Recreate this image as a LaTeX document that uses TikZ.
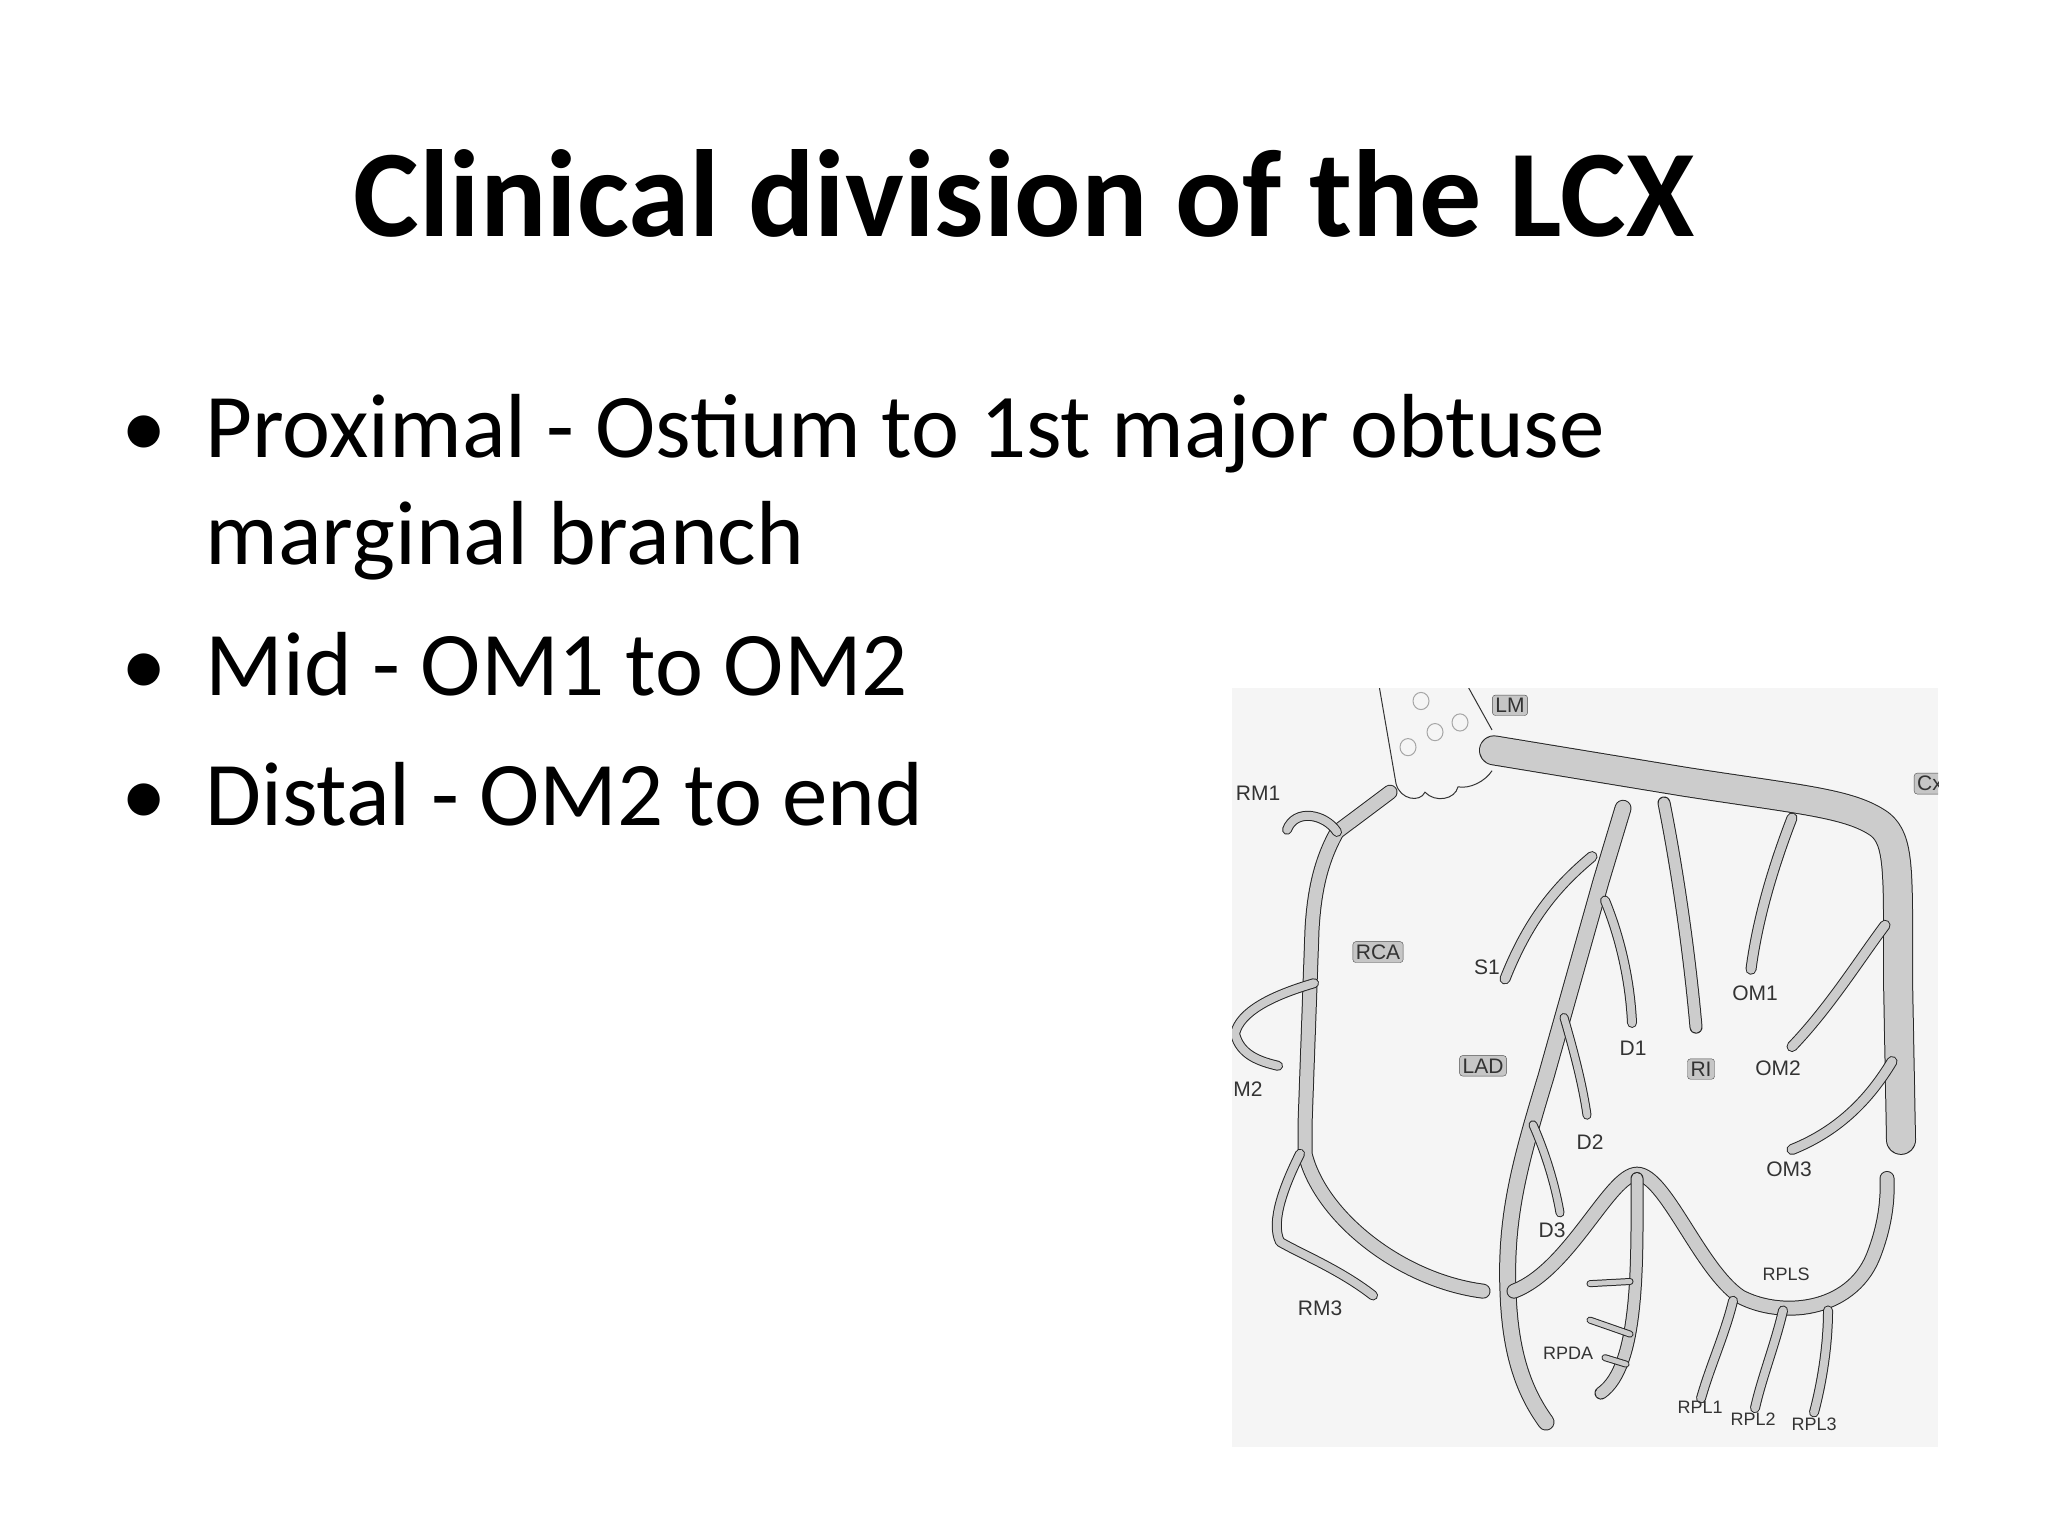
\documentclass[tikz,border=0pt]{standalone}
\usepackage{fontspec}
\setmainfont{Carlito}
\newfontfamily\lblfont{Liberation Sans}
\begin{document}
\begin{tikzpicture}[x=1pt,y=-1pt,
  vessel/.style={draw=black!85,line width=1pt,double=gray!40,double distance=#1,line cap=round,line join=round},
  vessel/.default=9pt,
  lbl/.style={font=\lblfont\fontsize{21}{21}\selectfont,text=black!80},
  slbl/.style={font=\lblfont\fontsize{18}{18}\selectfont,text=black!80},
  boxlbl/.style={lbl,draw=black!70,fill=gray!45,rounded corners=3pt,inner sep=3pt},
  bodytext/.style={anchor=base west,font=\fontsize{91}{100}\selectfont}]
\useasboundingbox (0,0) rectangle (2048,1536);
\fill[white] (0,0) rectangle (2048,1536);
\node[font=\bfseries\fontsize{124}{130}\selectfont] (title) at (1024,193) {Clinical division of the LCX};
\node[bodytext] (b1) at (118,457) {•};
\node[bodytext] (t1) at (202,457) {Proximal - Ostium to 1st major obtuse};
\node[bodytext] (t1b) at (202,564) {marginal branch};
\node[bodytext] (b2) at (118,695) {•};
\node[bodytext] (t2) at (202,695) {Mid - OM1 to OM2};
\node[bodytext] (b3) at (118,825) {•};
\node[bodytext] (t3) at (202,825) {Distal - OM2 to end};
% diagram frame
\fill[gray!8] (1232,688) rectangle (1938,1447);
\begin{scope}
\clip (1232,688) rectangle (1938,1447);
\begin{scope}[y=-1.073pt,yshift=50.1pt]
% aorta
\draw[black!80,line width=1pt] (1378,680) -- (1396,777) .. controls (1400,792) and (1420,795) .. (1425,785)
  .. controls (1435,795) and (1455,792) .. (1458,780) .. controls (1470,782) and (1485,775) .. (1492,765);
\draw[black!80,line width=1pt] (1464,680) -- (1492,727);
\foreach \p in {(1421,700),(1408,743),(1435,729),(1460,720)} \draw[gray!70,line width=1pt] \p circle (8);
% main LM/Cx
\draw[vessel=28pt] (1494,746) -- (1683,775) .. controls (1800,792) and (1850,795) .. (1880,815)
  .. controls (1900,830) and (1898,860) .. (1898,959) -- (1901,1109);
% LAD
\draw[vessel=15pt] (1623,800) -- (1601,868) -- (1546,1050) .. controls (1520,1130) and (1505,1180) .. (1508,1250) .. controls (1510,1310) and (1525,1345) .. (1546,1372);
\draw[vessel=9pt] (1592,845) .. controls (1560,870) and (1530,900) .. (1505,959);
\draw[vessel=8pt] (1605,886) .. controls (1620,920) and (1630,960) .. (1632,1000);
\draw[vessel=7pt] (1564,995) .. controls (1575,1030) and (1583,1060) .. (1587,1086);
\draw[vessel=7pt] (1533,1095) .. controls (1545,1120) and (1555,1150) .. (1560,1177);
% RI
\draw[vessel=11pt] (1664,795) .. controls (1678,860) and (1690,940) .. (1696,1004);
% OM
\draw[vessel=9pt] (1792,809) .. controls (1775,850) and (1758,900) .. (1751,950);
\draw[vessel=9pt] (1885,909) .. controls (1860,940) and (1830,985) .. (1792,1022);
\draw[vessel=9pt] (1892,1036) .. controls (1870,1070) and (1840,1100) .. (1792,1118);
% RCA
\draw[vessel=13pt] (1390,785) -- (1337,822) .. controls (1320,850) and (1314,880) .. (1312,913) -- (1305,1095) -- (1305,1122)
  .. controls (1320,1180) and (1400,1240) .. (1483,1250);
\draw[vessel=8pt] (1337,822) .. controls (1325,805) and (1295,800) .. (1287,820);
\draw[vessel=8pt] (1314,963) .. controls (1270,975) and (1240,990) .. (1235,1010) .. controls (1240,1030) and (1260,1036) .. (1278,1040);
\draw[vessel=8pt] (1300,1122) .. controls (1285,1150) and (1270,1185) .. (1280,1204) .. controls (1300,1215) and (1340,1230) .. (1373,1254);
% PDA / PL
\draw[vessel=13pt] (1514,1250) .. controls (1570,1230) and (1610,1141) .. (1637,1141) .. controls (1665,1141) and (1700,1230) .. (1740,1255)
  .. controls (1780,1275) and (1850,1270) .. (1873,1218) .. controls (1885,1190) and (1888,1165) .. (1887,1145);
\draw[vessel=11pt] (1637,1145) .. controls (1637,1220) and (1640,1320) .. (1601,1345);
\draw[vessel=5pt] (1630,1241) -- (1590,1243);
\draw[vessel=5pt] (1630,1290) -- (1590,1277);
\draw[vessel=5pt] (1626,1318) -- (1605,1312);
\draw[vessel=8pt] (1733,1259) .. controls (1725,1290) and (1710,1320) .. (1701,1350);
\draw[vessel=8pt] (1783,1268) .. controls (1775,1300) and (1762,1330) .. (1755,1359);
\draw[vessel=8pt] (1828,1268) .. controls (1828,1300) and (1822,1335) .. (1814,1363);
% labels
\node[boxlbl] (lm) at (1510,704) {LM};
\node[boxlbl] (cx) at (1930,777) {Cx};
\node[lbl] (rm1) at (1258,786) {RM1};
\node[boxlbl] (rca) at (1378,934) {RCA};
\node[lbl] (s1) at (1487,948) {S1};
\node[boxlbl] (lad) at (1483,1040) {LAD};
\node[lbl] (d1) at (1633,1024) {D1};
\node[boxlbl] (ri) at (1701,1043) {RI};
\node[lbl] (om1) at (1755,972) {OM1};
\node[lbl] (om2) at (1778,1042) {OM2};
\node[lbl] (d2) at (1590,1111) {D2};
\node[lbl] (om3) at (1789,1136) {OM3};
\node[lbl] (d3) at (1552,1193) {D3};
\node[slbl] (rpls) at (1786,1234) {RPLS};
\node[lbl] (m2) at (1248,1062) {M2};
\node[lbl] (rm3) at (1320,1266) {RM3};
\node[slbl] (rpda) at (1568,1308) {RPDA};
\node[slbl] (rpl1) at (1700,1358) {RPL1};
\node[slbl] (rpl2) at (1753,1369) {RPL2};
\node[slbl] (rpl3) at (1814,1374) {RPL3};
\end{scope}
\end{scope}
\end{tikzpicture}
\end{document}
